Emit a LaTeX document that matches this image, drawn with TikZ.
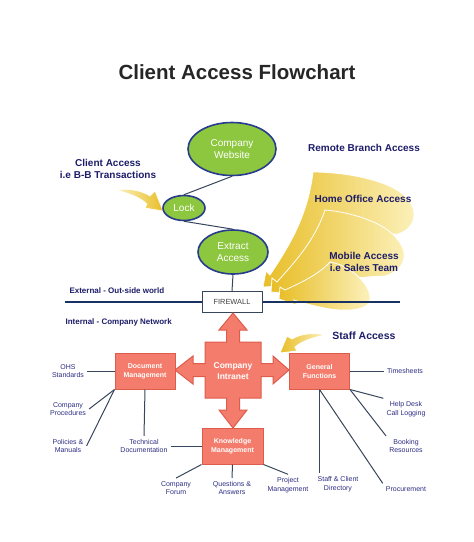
\documentclass[tikz,border=0pt]{standalone}
\usepackage{fontspec}
\setmainfont{Liberation Sans}
\usetikzlibrary{shapes.geometric}

\definecolor{navy}{RGB}{28,28,105}
\definecolor{leafblue}{RGB}{45,45,130}
\definecolor{ovalgreen}{RGB}{141,198,63}
\definecolor{ovalrim}{RGB}{40,60,140}
\definecolor{salmon}{RGB}{244,124,108}
\definecolor{salmonrim}{RGB}{222,92,76}
\definecolor{wirecol}{RGB}{55,70,90}
\definecolor{netline}{RGB}{25,50,100}
\definecolor{gold}{RGB}{232,190,40}
\definecolor{paleyellow}{RGB}{252,242,190}

\tikzset{
	oval/.style={ellipse, draw=ovalrim, line width=1.6pt, fill=ovalgreen, text=white,
		font=\fontsize{10}{12.5}\selectfont, align=center, inner sep=0pt},
	sbox/.style={draw=salmonrim, line width=1pt, fill=salmon, text=white,
		font=\fontsize{7}{9}\selectfont\bfseries, align=center,
		minimum width=60pt, minimum height=36pt, inner sep=0pt},
	leaf/.style={text=leafblue, font=\fontsize{7}{8.5}\selectfont, align=center, inner sep=3pt},
	heading/.style={text=navy, font=\fontsize{10}{12.5}\selectfont\bfseries, align=center},
	netlabel/.style={text=navy, font=\fontsize{8}{9}\selectfont\bfseries, anchor=west},
	wire/.style={draw=wirecol, line width=1pt},
	swoosh/.style={left color=gold, right color=paleyellow, draw=white, line width=0.8pt},
	backswoosh/.style={left color=paleyellow, right color=gold, draw=white, line width=0.6pt}
}

\begin{document}
\begin{tikzpicture}[x=1pt,y=-1pt]
	\useasboundingbox (0,0) rectangle (474,542);
	
	\node[font=\fontsize{20.5}{24}\selectfont\bfseries, text=black!85] (title) at (237,72) {Client Access Flowchart};
	
	%% remote access swooshes
	\draw[swoosh] (263,287) -- (266,271) -- (270,275) .. controls (290,245) and (308,215) .. (313,172)
		.. controls (340,172) and (380,178) .. (400,192) .. controls (420,205) and (418,228) .. (398,234)
		.. controls (340,235) and (300,255) .. (280,280) -- (284,286) -- cycle;
	\draw[swoosh] (271,292) -- (272,278) -- (277,282) .. controls (295,262) and (315,240) .. (325,210)
		.. controls (350,212) and (385,222) .. (398,240) .. controls (412,258) and (400,272) .. (385,276)
		.. controls (340,278) and (310,283) .. (288,289) -- (291,294) -- cycle;
	\draw[swoosh] (279,299) -- (280,287) -- (285,290) .. controls (300,283) and (318,275) .. (330,262)
		.. controls (350,265) and (372,285) .. (370,300) .. controls (368,312) and (340,312) .. (320,307)
		.. controls (310,305) and (300,302) .. (294,300) -- (297,305) -- cycle;
	%% small swooshes
	\draw[backswoosh] (116,190) .. controls (130,188) and (142,191) .. (150,196) -- (155,191) -- (163,211)
		-- (145,208) -- (147,204) .. controls (140,197) and (128,193) .. (116,190) -- cycle;
	\draw[swoosh] (326,335) .. controls (312,332) and (300,334) .. (292,339) -- (287,336) -- (280,353)
		-- (297,351) -- (295,347) .. controls (302,341) and (314,337) .. (326,335) -- cycle;
	
	%% network line
	\coordinate (netL) at (65,302);
	\coordinate (netR) at (400,302);
	\draw[netline, line width=1.8pt] (netL) -- (netR);
	\node[netlabel] (ext) at (66,291) {External - Out-side world};
	\node[netlabel] (int) at (62,322) {Internal - Company Network};
	
	%% outside
	\node[oval, minimum width=88pt, minimum height=53pt] (web) at (232,149) {Company\\Website};
	\node[oval, minimum width=42pt, minimum height=25pt] (lock) at (184,208) {Lock};
	\node[oval, minimum width=70pt, minimum height=44pt] (extract) at (233,252) {Extract\\Access};
	\node[draw=wirecol, fill=white, line width=1pt, minimum width=60pt, minimum height=21pt,
		font=\fontsize{7.4}{9}\selectfont, text=black!75] (fw) at (232,302) {FIREWALL};
	\draw[wire] (web.south) -- (lock.north);
	\draw[wire] (lock.south) -- (extract.north);
	\draw[wire] (extract.south) -- (fw.north);
	
	\node[heading] (client) at (108,169) {Client Access\\i.e B-B Transactions};
	\node[heading] (remote) at (364,148) {Remote Branch Access};
	\node[heading] (home) at (363,199) {Home Office Access};
	\node[heading, font=\fontsize{10}{12}\selectfont\bfseries] (mobile) at (364,262) {Mobile Access\\i.e Sales Team};
	\node[heading, font=\fontsize{10.5}{12}\selectfont\bfseries] (staff) at (364,336) {Staff Access};
	
	%% intranet cross
	\draw[fill=salmon, draw=salmonrim, line width=1pt]
		(226.5,330) -- (219,330) -- (233,313) -- (247,330) -- (239.5,330) -- (239.5,342) -- (261,342)
		-- (261,363.5) -- (273,363.5) -- (273,356) -- (289,370) -- (273,384) -- (273,376.5) -- (261,376.5)
		-- (261,398) -- (239.5,398) -- (239.5,410) -- (247,410) -- (233,428) -- (219,410) -- (226.5,410)
		-- (226.5,398) -- (205,398) -- (205,376.5) -- (193,376.5) -- (193,384) -- (175,370) -- (193,356)
		-- (193,363.5) -- (205,363.5) -- (205,342) -- (226.5,342) -- cycle;
	\node[font=\fontsize{8.5}{11}\selectfont\bfseries, text=white, align=center] (intranet) at (233,371) {Company\\Intranet};
	
	\node[sbox] (doc) at (145,371) {Document\\Management};
	\node[sbox] (gen) at (319.5,371) {General\\Functions};
	\node[sbox, minimum width=61pt] (know) at (232.5,446) {Knowledge\\Management};
	
	%% leaves
	\node[leaf] (ohs) at (68,371) {OHS\\Standards};
	\node[leaf] (proc) at (68,409) {Company\\Procedures};
	\node[leaf] (pol) at (68,446) {Policies \&\\Manuals};
	\node[leaf] (tech) at (144,446) {Technical\\Documentation};
	\node[leaf] (forum) at (176,488) {Company\\Forum};
	\node[leaf] (qa) at (232,488) {Questions \&\\Answers};
	\node[leaf] (proj) at (288,485) {Project\\Management};
	\node[leaf] (dir) at (338,484) {Staff \& Client\\Directory};
	\node[leaf] (ts) at (405,371) {Timesheets};
	\node[leaf] (help) at (406,409) {Help Desk\\Call Logging};
	\node[leaf] (book) at (406,446) {Booking\\Resources};
	\node[leaf] (procure) at (406,489) {Procurement};
	
	\draw[wire] (doc.west) -- (ohs.east);
	\draw[wire] (doc.south west) -- (proc.east);
	\draw[wire] (doc.south west) -- (pol.east);
	\draw[wire] (doc.south) -- (tech.north);
	\draw[wire] (tech.east) -- (know.west);
	\draw[wire] (know.south west) -- (forum.north);
	\draw[wire] (know.south) -- (qa.north);
	\draw[wire] (know.south east) -- (proj.north);
	\draw[wire] (gen.south) -- (gen.south |- dir.north);
	\draw[wire] (gen.east) -- (ts.west);
	\draw[wire] (gen.south east) -- (help.north west);
	\draw[wire] (gen.south east) -- (book.north west);
	\draw[wire] (gen.south) -- (procure.north west);
\end{tikzpicture}
\end{document}
